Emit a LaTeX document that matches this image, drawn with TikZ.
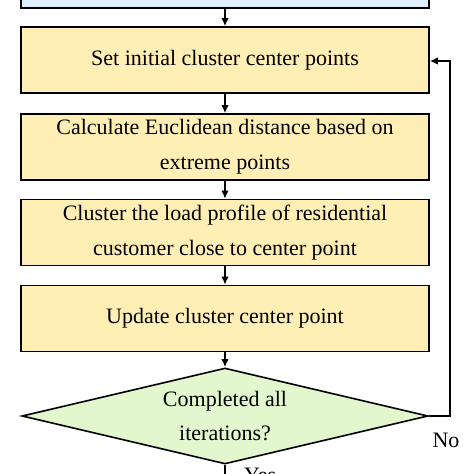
\documentclass[tikz,border=0pt]{standalone}
\usepackage{fontspec}
\setmainfont{Liberation Serif}
\usetikzlibrary{arrows.meta,shapes.geometric}
\definecolor{boxyellow}{RGB}{255,239,181}
\definecolor{boxgreen}{RGB}{226,247,206}
\definecolor{boxblue}{RGB}{222,240,251}
\tikzset{
  procbox/.style={draw=black, line width=1.6pt, fill=boxyellow, minimum width=408pt, minimum height=66pt, inner sep=0pt, align=center, font=\fontsize{22}{35}\selectfont},
  flow/.style={line width=2pt, -{Latex[length=8pt,width=7.5pt]}},
  lbl/.style={font=\fontsize{22}{26}\selectfont, inner sep=0pt}
}
\begin{document}
\begin{tikzpicture}[x=1pt,y=-1pt]
\useasboundingbox (0,0) rectangle (474,474);
\begin{scope}
\clip (0,0) rectangle (474,474);
\node[draw=black, line width=1.6pt, fill=boxblue, minimum width=408pt, minimum height=66pt, inner sep=0pt] (top) at (225,-25) {};
\node[procbox] (b1) at (225,60) {\raisebox{-2pt}{Set initial cluster center points}};
\node[procbox] (b2) at (225,147) {Calculate Euclidean distance based on\\extreme points};
\node[procbox] (b3) at (225,232.5) {Cluster the load profile of residential\\customer close to center point};
\node[procbox] (b4) at (225,318.5) {\raisebox{-2pt}{Update cluster center point}};
\node[draw=black, line width=1.6pt, fill=boxgreen, diamond, aspect=4.25, minimum width=406pt, minimum height=96pt, inner sep=0pt, align=center, font=\fontsize{22}{34}\selectfont] (d) at (225,416) {Completed all\\iterations?};
\draw[flow] (top.south) -- (b1.north);
\draw[flow] (b1.south) -- (b2.north);
\draw[flow] (b2.south) -- (b3.north);
\draw[flow] (b3.south) -- (b4.north);
\draw[flow] (b4.south) -- (d.north);
\coordinate (c1) at (450,416);
\coordinate (c2) at (450,61);
\draw[flow] (d.east) -- (c1) -- (c2) -- (b1.east |- c2);
\coordinate (yend) at (225,490);
\draw[line width=2pt] (d.south) -- (yend);
\node[lbl] (no) at (446,440) {No};
\node[lbl, anchor=north west] (yes) at (244,468) {Yes};
\end{scope}
\end{tikzpicture}
\end{document}
